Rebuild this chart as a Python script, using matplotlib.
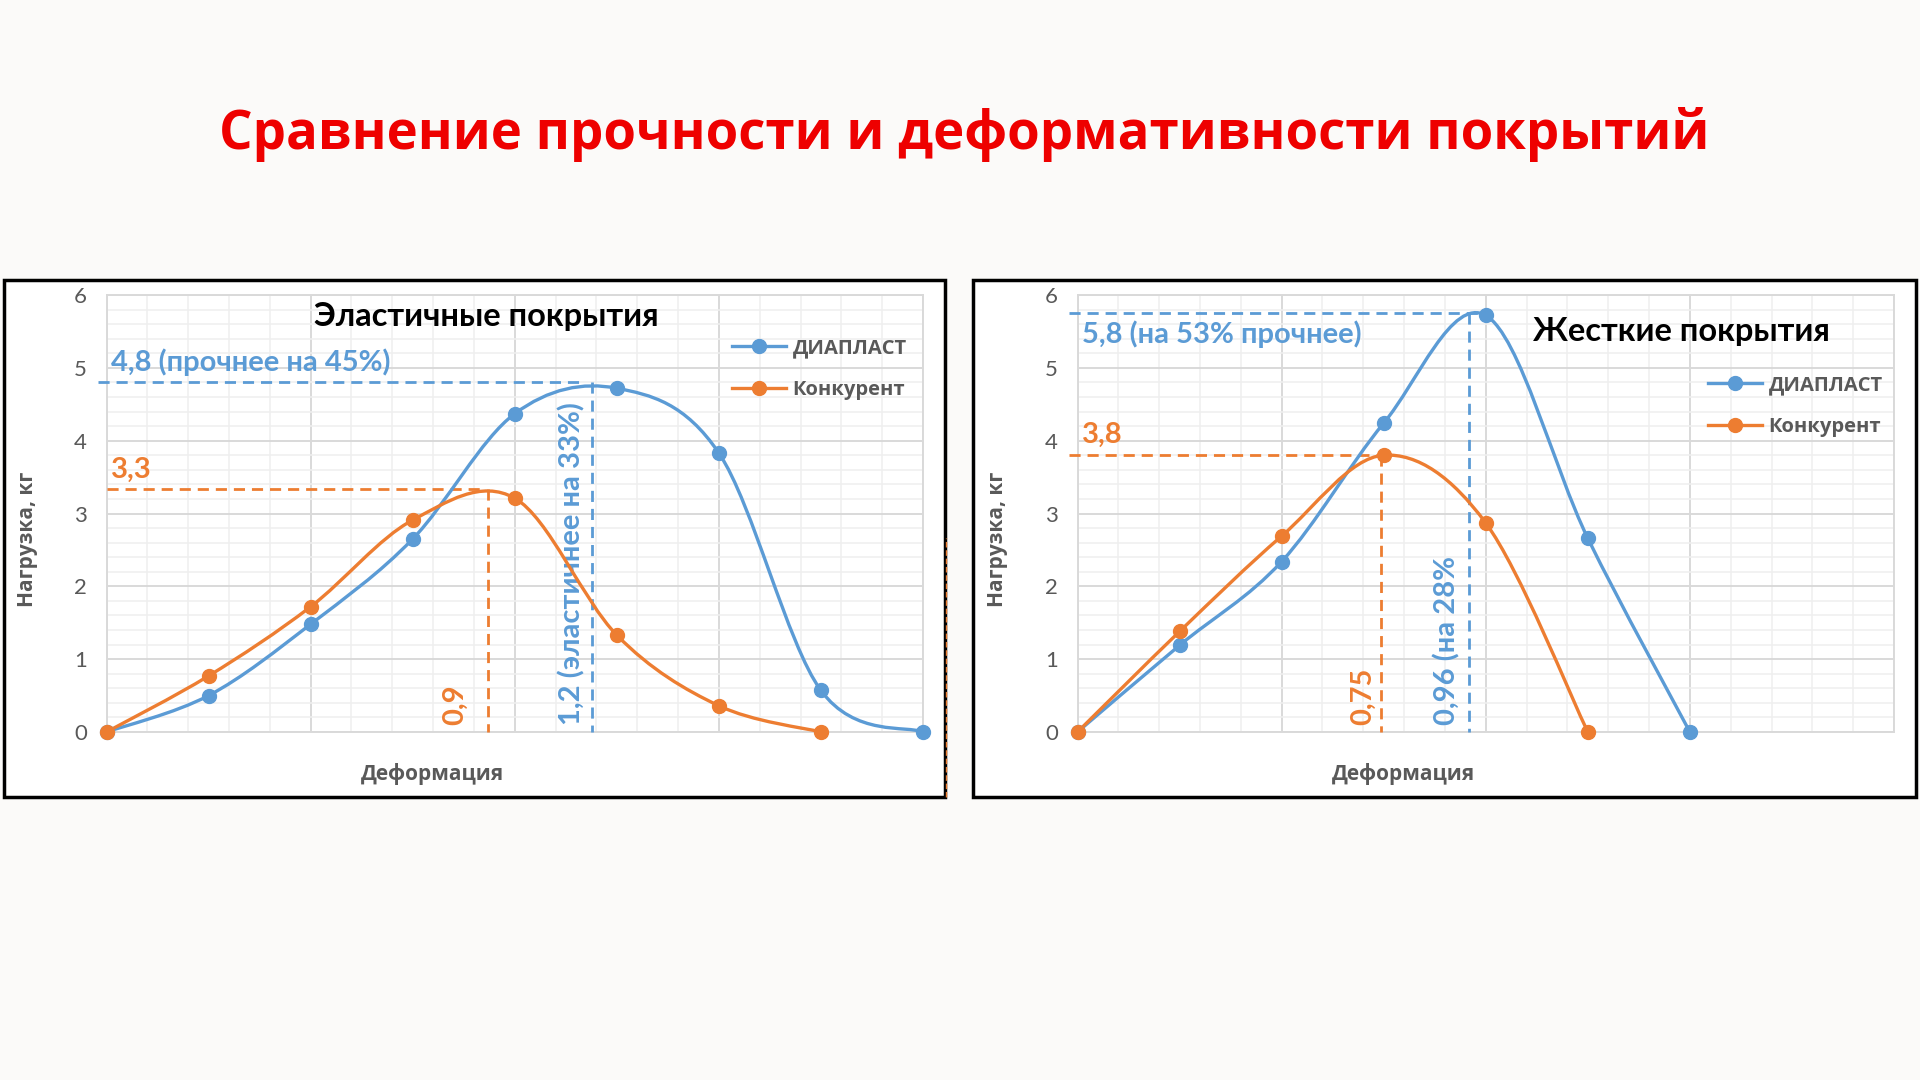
import numpy as np
import matplotlib.pyplot as plt
from matplotlib.path import Path
from matplotlib.patches import PathPatch, Rectangle
from matplotlib.lines import Line2D
from matplotlib.ticker import MultipleLocator

BLUE = '#5B9BD5'
ORANGE = '#ED7D31'
GRAY = '#595959'
FONT = ['Lato', 'Open Sans', 'DejaVu Sans']

# data
series_names = ['ДИАПЛАСТ', 'Конкурент']
x_elastic = [0, 0.25, 0.5, 0.75, 1.0, 1.25, 1.5, 1.75, 2.0]
diaplast_elastic = [0, 0.50, 1.48, 2.65, 4.37, 4.72, 3.83, 0.57, 0]
rival_elastic = [0, 0.77, 1.72, 2.91, 3.21, 1.33, 0.36, 0]
x_rigid = [0, 0.25, 0.5, 0.75, 1.0, 1.25, 1.5]
diaplast_rigid = [0, 1.19, 2.34, 4.24, 5.72, 2.66, 0]
rival_rigid = [0, 1.38, 2.69, 3.80, 2.87, 0]


def smooth_path(x, y):
    # excel-like smoothed line: cubic bezier through the points
    p = np.column_stack([x[:len(y)], y]).astype(float)
    n = len(p)
    verts = [p[0]]
    codes = [Path.MOVETO]
    for i in range(n - 1):
        p0 = p[max(i - 1, 0)]
        p3 = p[min(i + 2, n - 1)]
        c1 = p[i] + (p[i + 1] - p0) / 6
        c2 = p[i + 1] - (p3 - p[i]) / 6
        verts += [c1, c2, p[i + 1]]
        codes += [Path.CURVE4] * 3
    return Path(verts, codes)


def draw_series(ax, x, y, color):
    ax.add_patch(PathPatch(smooth_path(x, y), fc='none', ec=color, lw=2.4,
                           zorder=4, capstyle='round', clip_on=False))
    ax.plot(x[:len(y)], y, 'o', color=color, ms=10, zorder=5, clip_on=False)


def setup_axes(ax):
    ax.set_xlim(0, 2.0)
    ax.set_ylim(0, 6)
    ax.xaxis.set_major_locator(MultipleLocator(0.5))
    ax.xaxis.set_minor_locator(MultipleLocator(0.1))
    ax.yaxis.set_major_locator(MultipleLocator(1))
    ax.yaxis.set_minor_locator(MultipleLocator(0.2))
    ax.grid(which='major', color='#d9d9d9', lw=1.4)
    ax.grid(which='minor', color='#efefef', lw=1.1)
    ax.set_axisbelow(True)
    ax.tick_params(which='both', length=0)
    ax.tick_params(axis='x', labelbottom=False)
    ax.tick_params(axis='y', labelsize=16, labelcolor=GRAY, pad=14)
    for lab in ax.get_yticklabels():
        lab.set_family(FONT)
    for s in ax.spines.values():
        s.set_color('#d9d9d9')
        s.set_linewidth(1.4)


def dashed(ax, xs, ys, color):
    ax.plot(xs, ys, color=color, lw=2, ls=(0, (4, 2.5)), zorder=3, clip_on=False)


def note(ax, x, y, s, color, rot=0):
    if rot:
        ax.text(x, y, s, color=color, fontsize=21, family=FONT, fontweight='bold',
                rotation=90, ha='center', va='bottom')
    else:
        ax.text(x, y, s, color=color, fontsize=21, family=FONT, fontweight='bold',
                ha='left', va='center')


fig = plt.figure(figsize=(19.2, 10.8), dpi=100, facecolor='#fbfaf9')

fig.text(964 / 1920, 1 - 135 / 1080, 'Сравнение прочности и деформативности покрытий',
         ha='center', va='center', color='#ee0000', fontsize=38,
         fontweight='bold', family='Open Sans')

# panel frames
for x0, x1 in [(4, 945), (973, 1916)]:
    fig.patches.append(Rectangle((x0 / 1920, 1 - 797 / 1080), (x1 - x0) / 1920, 517 / 1080,
                                 transform=fig.transFigure, fc='white', ec='black',
                                 lw=2.5, zorder=-2))
fig.lines.append(Line2D([946 / 1920, 946 / 1920], [1 - 797 / 1080, 1 - 538 / 1080],
                        transform=fig.transFigure, color=ORANGE, lw=1, ls=(0, (4, 2)),
                        zorder=3))

ax1 = fig.add_axes([106.5 / 1920, 1 - 732 / 1080, 816.5 / 1920, 437 / 1080])
ax2 = fig.add_axes([1077.5 / 1920, 1 - 732 / 1080, 816.5 / 1920, 437 / 1080])
for ax in (ax1, ax2):
    setup_axes(ax)
    ax.patch.set_facecolor('white')

# elastic
draw_series(ax1, x_elastic, diaplast_elastic, BLUE)
draw_series(ax1, x_elastic, rival_elastic, ORANGE)
dashed(ax1, [-0.02, 1.17], [4.81, 4.81], BLUE)
dashed(ax1, [1.19, 1.19], [4.81, 0], BLUE)
dashed(ax1, [0, 0.915], [3.34, 3.34], ORANGE)
dashed(ax1, [0.935, 0.935], [3.34, 0], ORANGE)
note(ax1, 0.012, 5.08, '4,8 (прочнее на 45%)', BLUE)
note(ax1, 0.012, 3.6, '3,3', ORANGE)
note(ax1, 1.14, 0.1, '1,2 (эластичнее на 33%)', BLUE, rot=1)
note(ax1, 0.855, 0.1, '0,9', ORANGE, rot=1)
ax1.text(0.93, 5.71, 'Эластичные покрытия', color='black', fontsize=23.5,
         family=FONT, fontweight='bold', ha='center', va='center')

# rigid
draw_series(ax2, x_rigid, diaplast_rigid, BLUE)
draw_series(ax2, x_rigid, rival_rigid, ORANGE)
dashed(ax2, [-0.02, 0.99], [5.75, 5.75], BLUE)
dashed(ax2, [0.96, 0.96], [5.75, 0], BLUE)
dashed(ax2, [-0.02, 0.744], [3.80, 3.80], ORANGE)
dashed(ax2, [0.744, 0.744], [3.80, 0], ORANGE)
note(ax2, 0.012, 5.46, '5,8 (на 53% прочнее)', BLUE)
note(ax2, 0.012, 4.08, '3,8', ORANGE)
note(ax2, 0.70, 0.1, '0,75', ORANGE, rot=1)
note(ax2, 0.905, 0.1, '0,96 (на 28%', BLUE, rot=1)
ax2.text(1.48, 5.5, 'Жесткие покрытия', color='black', fontsize=23.5,
         family=FONT, fontweight='bold', ha='center', va='center')

# axis labels and legends
handles = [Line2D([], [], color=c, lw=2.4, marker='o', ms=10) for c in (BLUE, ORANGE)]
for ax, ylx, xlx, lx, ly in [(ax1, 27, 432, 732, 338), (ax2, 997, 1403, 1708, 375)]:
    fig.text(ylx / 1920, 1 - 539 / 1080, 'Нагрузка, кг', rotation=90, ha='center',
             va='center', color=GRAY, fontsize=15, fontweight='bold', family='Open Sans')
    fig.text(xlx / 1920, 1 - 774 / 1080, 'Деформация', ha='center', va='center',
             color=GRAY, fontsize=15, fontweight='bold', family='Open Sans')
    leg = ax.legend(handles, series_names, loc='upper left',
                    bbox_to_anchor=(lx / 1920, 1 - ly / 1080),
                    bbox_transform=fig.transFigure, frameon=False, borderpad=0,
                    borderaxespad=0, handlelength=2.7, handletextpad=0.3,
                    labelspacing=1.1, prop={'family': 'Open Sans', 'weight': 'bold',
                                            'size': 14.5})
    for t in leg.get_texts():
        t.set_color(GRAY)

fig.savefig('out.png', dpi=100, facecolor=fig.get_facecolor())
